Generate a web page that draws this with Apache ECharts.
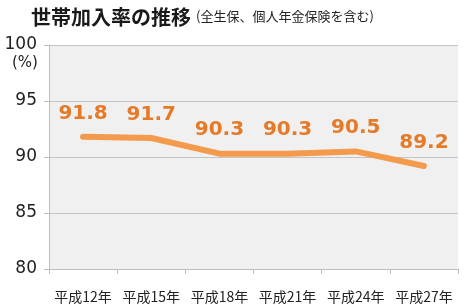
<!DOCTYPE html>
<html><head><meta charset="utf-8">
<script src="https://cdn.jsdelivr.net/npm/echarts@6/dist/echarts.min.js"></script>
<style>html,body{margin:0;padding:0;background:#fff}#c{width:474px;height:305px}</style>
</head><body><div id="c"></div>
<script>
const categories = ['平成12年','平成15年','平成18年','平成21年','平成24年','平成27年'];
const rates = [91.8, 91.7, 90.3, 90.3, 90.5, 89.2];
const yTicks = [80, 85, 90, 95, 100];
const chart = echarts.init(document.getElementById('c'));
chart.setOption({
  animation:false,
  title:{text:'世帯加入率の推移',left:26,top:2,
    textStyle:{fontFamily:'Noto Sans CJK JP',fontWeight:'bold',fontSize:20,color:'#1a1a1a'}},
  graphic:[
    {type:'text',left:196,top:10,style:{text:'(全生保、個人年金保険を含む)',font:'13px "Noto Sans CJK JP"',fill:'#222'}},
    {type:'text',left:12,top:56,style:{text:'(%)',font:'15px "DejaVu Sans"',fill:'#222'}}
  ],
  grid:{left:49,right:16,top:45,bottom:36,show:true,backgroundColor:'#f0f0f0',borderWidth:0},
  xAxis:{type:'category',data:categories,boundaryGap:true,
    axisLine:{lineStyle:{color:'#bdbdbd'}},
    axisTick:{show:true,interval:0,alignWithLabel:false,length:5,lineStyle:{color:'#bdbdbd'}},
    axisLabel:{interval:0,fontFamily:'Noto Sans CJK JP',fontSize:14,color:'#222',margin:21}},
  yAxis:{type:'value',min:yTicks[0],max:yTicks[yTicks.length-1],interval:5,
    axisLine:{show:true,lineStyle:{color:'#bdbdbd'}},
    axisTick:{show:true,length:5,lineStyle:{color:'#bdbdbd'}},
    splitLine:{lineStyle:{color:'#c4c4c4'}},
    axisLabel:{fontFamily:'DejaVu Sans',fontSize:17,color:'#222',margin:12}},
  series:[{type:'line',data:rates,symbol:'circle',symbolSize:5,showSymbol:true,
    itemStyle:{color:'#F39A4C'},
    lineStyle:{color:'#F39A4C',width:6,cap:'round',join:'round'},
    label:{show:true,position:'top',distance:11,fontFamily:'DejaVu Sans',fontWeight:'bold',fontSize:20,color:'#E57A28'}}]
});
</script></body></html>
